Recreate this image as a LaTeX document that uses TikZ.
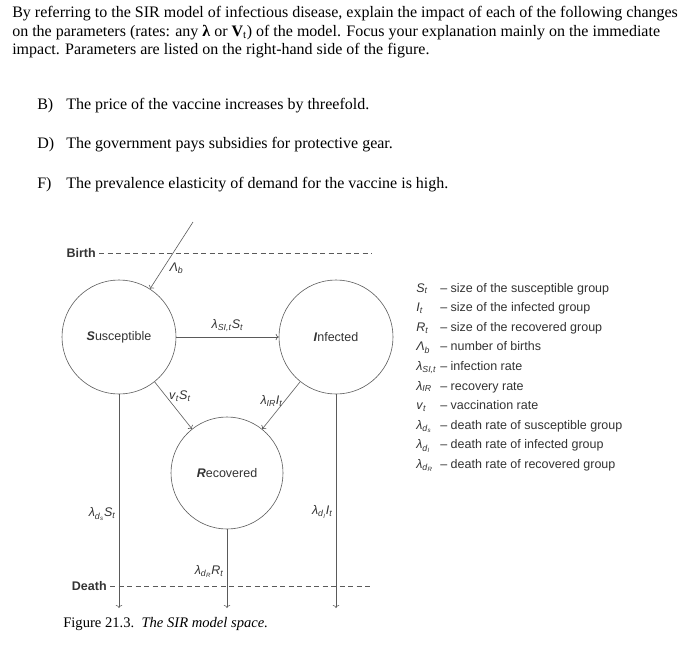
\documentclass[tikz,border=0pt]{standalone}
\usepackage{fontspec}
\setmainfont{Liberation Serif}
\setsansfont{Liberation Sans}
\usetikzlibrary{arrows.meta, positioning}
\definecolor{cline}{HTML}{5A5A5A}
\definecolor{cdiag}{HTML}{333333}
% italic symbol with italic subscript
\newcommand{\vr}[2]{\textit{#1}\textsubscript{\textit{#2}}}
\newcommand{\diagfont}{\sffamily\fontsize{12.5}{14}\selectfont}
\tikzset{
  every picture/.style={line width=0.6pt},
  question/.style={anchor=base west, inner sep=0pt, font=\fontsize{16}{19}\selectfont},
  state/.style={circle, draw=cline, minimum size=114pt, inner sep=0pt, text=cdiag, font=\diagfont},
  flow/.style={-{To[length=3pt]}, draw=cline},
  rate/.style={inner sep=1pt, text=cdiag, font=\diagfont},
  level/.style={anchor=east, inner xsep=3pt, inner ysep=2pt, text=cdiag, font=\diagfont\bfseries},
  boundary/.style={draw=cline, dash pattern=on 5pt off 3.5pt},
  legend/.style={anchor=base west, inner sep=0pt, text=cdiag, font=\diagfont},
  caption/.style={anchor=base west, inner sep=0pt, font=\fontsize{14.6}{17}\selectfont},
}

\begin{document}
\begin{tikzpicture}[x=1pt, y=-1pt]
  \useasboundingbox (0,0) rectangle (692,645);
  % question text
  \node[question] (q1) at (12,17.5) {By referring to the SIR model of infectious disease, explain the impact of each of the following changes};
  \node[question] (q2) at (12,36) {on the parameters (rates: any \textbf{λ} or \textbf{V}\textsubscript{t}) of the model. Focus your explanation mainly on the immediate};
  \node[question] (q3) at (12,54.5) {impact. Parameters are listed on the right-hand side of the figure.};
  \node[question] (bl) at (37,109) {B)};
  \node[question] (bt) at (66,109) {The price of the vaccine increases by threefold.};
  \node[question] (dl) at (37,148) {D)};
  \node[question] (dt) at (66,148) {The government pays subsidies for protective gear.};
  \node[question] (fl) at (37,188) {F)};
  \node[question] (ft) at (66,188) {The prevalence elasticity of demand for the vaccine is high.};

  % SIR model
  \node[state] (susc) at (119,337) {\textbf{\textit{S}}usceptible};
  \node[state] (inf) at (336,337) {\textbf{\textit{I}}nfected};
  \node[state, minimum size=112pt] (rec) at (227,473) {\textbf{\textit{R}}ecovered};
  \node[level] (birth) at (99,253) {Birth};
  \node[level] (death) at (110,586) {Death};
  \coordinate (bend) at (372,253);
  \coordinate (dend) at (372,586);
  \draw[boundary] (birth) -- (bend);
  \draw[boundary] (death) -- (dend);
  \coordinate (src) at (193,222);
  \coordinate (sout) at (119,608);
  \coordinate (iout) at (336,608);
  \coordinate (rout) at (227,608);
  \draw[flow] (src) -- node[rate, pos=0.69, right=5pt] {\vr{Λ}{b}} (susc);
  \draw[flow] (susc) -- node[rate, above=4pt] {\vr{λ}{SI,t}\vr{S}{t}} (inf);
  \draw[flow] (susc) -- node[rate, pos=0.3, right=2pt] {\vr{v}{t}\vr{S}{t}} (rec);
  \draw[flow] (inf) -- node[rate, pos=0.4, left=1pt] {\vr{λ}{IR}\vr{I}{t}} (rec);
  \draw[flow] (susc) -- node[rate, pos=0.56, left=2pt] {\textit{λ}\textsubscript{\textit{d}\textsubscript{\textit{s}}}\vr{S}{t}} (sout);
  \draw[flow] (inf) -- node[rate, pos=0.55, left=2pt] {\textit{λ}\textsubscript{\textit{d}\textsubscript{\textit{I}}}\vr{I}{t}} (iout);
  \draw[flow] (rec) -- node[rate, pos=0.54, left=2pt] {\textit{λ}\textsubscript{\textit{d}\textsubscript{\textit{R}}}\vr{R}{t}} (rout);

  % parameter list
  \foreach \sym/\txt [count=\i from 0] in {
      {\vr{S}{t}}/{size of the susceptible group},
      {\vr{I}{t}}/{size of the infected group},
      {\vr{R}{t}}/{size of the recovered group},
      {\vr{Λ}{b}}/{number of births},
      {\vr{λ}{SI,t}}/{infection rate},
      {\vr{λ}{IR}}/{recovery rate},
      {\vr{v}{t}}/{vaccination rate},
      {\textit{λ}\textsubscript{\textit{d}\textsubscript{\textit{s}}}}/{death rate of susceptible group},
      {\textit{λ}\textsubscript{\textit{d}\textsubscript{\textit{I}}}}/{death rate of infected group},
      {\textit{λ}\textsubscript{\textit{d}\textsubscript{\textit{R}}}}/{death rate of recovered group}} {
    \node[legend] (sym\i) at (416,292+19.6*\i) {\sym};
    \node[legend] (def\i) at (440,292+19.6*\i) {– \txt};
  }

  \node[caption] (cap) at (63,627) {Figure 21.3.\ \ \textit{The SIR model space.}};
\end{tikzpicture}
\end{document}
